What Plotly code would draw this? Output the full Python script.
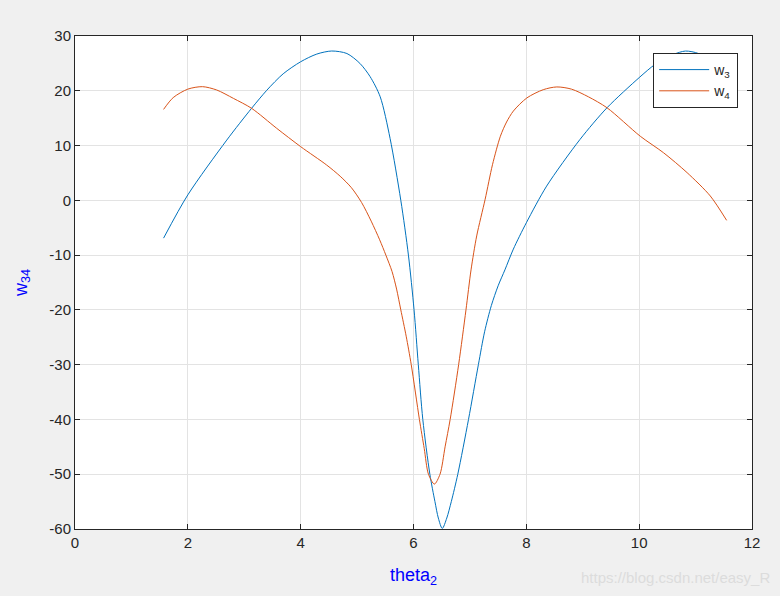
import plotly.graph_objects as go

# values
theta_w3 = [1.57, 2.0, 2.69, 3.13, 3.40, 3.69, 4.0, 4.285, 4.55, 4.82, 5.05, 5.23, 5.41,
            5.585, 5.775, 5.91, 6.01, 6.085, 6.165, 6.29, 6.38, 6.44, 6.51, 6.59, 6.67,
            6.785, 6.975, 7.15, 7.26, 7.38, 7.5, 7.62, 7.77, 8.0, 8.36, 8.95, 9.43, 10.0,
            10.28, 10.6, 10.82, 11.05, 11.3, 11.55]
w3 = [-6.9, 1.0, 11.0, 16.8, 20.1, 23.1, 25.3, 26.7, 27.26, 26.8, 25.0, 22.6, 18.9,
      11.3, 0.0, -10.0, -20.0, -30.0, -40.0, -50.0, -55.0, -58.0, -59.9, -58.0, -55.0,
      -50.0, -40.0, -30.0, -24.0, -19.2, -15.6, -12.7, -8.9, -4.1, 2.6, 11.1, 16.9, 22.4,
      24.8, 26.6, 27.25, 26.8, 25.0, 21.5]

theta_w4 = [1.57, 1.74, 2.0, 2.26, 2.51, 2.81, 3.13, 3.575, 4.0, 4.46, 4.7, 4.9, 5.08,
            5.25, 5.4, 5.51, 5.62, 5.70, 5.775, 5.87, 5.96, 6.105, 6.19, 6.265, 6.37,
            6.47, 6.56, 6.65, 6.80, 6.93, 7.02, 7.12, 7.27, 7.4, 7.54, 7.65, 7.77, 8.01,
            8.3, 8.54, 8.8, 9.1, 9.43, 10.02, 10.43, 10.85, 11.26, 11.55]
w4 = [16.6, 18.75, 20.3, 20.75, 20.15, 18.6, 16.8, 13.15, 9.8, 6.45, 4.4, 2.3, -0.4,
      -3.8, -7.2, -10.0, -13.0, -16.2, -20.0, -24.8, -30.0, -40.0, -45.3, -50.0, -51.8,
      -50.0, -45.0, -40.0, -30.0, -20.0, -12.7, -6.5, 0.2, 6.5, 11.7, 14.3, 16.3, 18.7,
      20.2, 20.7, 20.3, 18.9, 16.9, 11.7, 8.7, 5.05, 0.8, -3.65]

x_ticks = [0, 2, 4, 6, 8, 10, 12]
y_ticks = [-60, -50, -40, -30, -20, -10, 0, 10, 20, 30]

fig = go.Figure()
fig.add_trace(go.Scatter(x=theta_w3, y=w3, mode="lines", name="w<sub>3</sub>",
                         line=dict(color="#0072BD", width=1, shape="spline", smoothing=0.8)))
fig.add_trace(go.Scatter(x=theta_w4, y=w4, mode="lines", name="w<sub>4</sub>",
                         line=dict(color="#D95319", width=1, shape="spline", smoothing=0.8)))

axis_style = dict(showline=True, linecolor="#262626", linewidth=1, mirror="ticks",
                  ticks="inside", ticklen=5, tickcolor="#262626",
                  showgrid=True, gridcolor="#e3e3e3", gridwidth=1, zeroline=False,
                  tickfont=dict(family="Liberation Sans, Arial", size=15, color="#262626"))

fig.update_xaxes(range=[0, 12], tickvals=x_ticks, ticktext=[str(v) for v in x_ticks],
                 title=dict(text="theta<sub>2</sub>", standoff=18,
                            font=dict(family="Liberation Sans, Arial", size=18, color="#0000ff")),
                 **axis_style)
fig.update_yaxes(range=[-60, 30], tickvals=y_ticks, ticktext=[str(v) for v in y_ticks],
                 title=dict(text="w<sub>34</sub>", standoff=17,
                            font=dict(family="Liberation Sans, Arial", size=18, color="#0000ff")),
                 **axis_style)

fig.update_layout(
    width=780, height=596,
    margin=dict(l=75, r=28, t=36, b=67),
    paper_bgcolor="#f0f0f0", plot_bgcolor="white",
    font=dict(family="Liberation Sans, Arial", color="#262626"),
    legend=dict(x=0.854, y=0.9655, xanchor="left", yanchor="top",
                bgcolor="white", bordercolor="#262626", borderwidth=1,
                itemwidth=50, font=dict(size=14), tracegroupgap=2),
    annotations=[dict(text="https://blog.csdn.net/easy_R", xref="paper", yref="paper",
                      x=1.03, y=-0.098, xanchor="right", yanchor="middle", showarrow=False,
                      font=dict(family="Liberation Sans, Arial", size=15, color="#dcdcdc"))],
)

# drop the default page margin so the figure sits at the window's corner
fig.write_html("out.html", config={"displayModeBar": False},
               post_script="document.body.style.margin='0';")
